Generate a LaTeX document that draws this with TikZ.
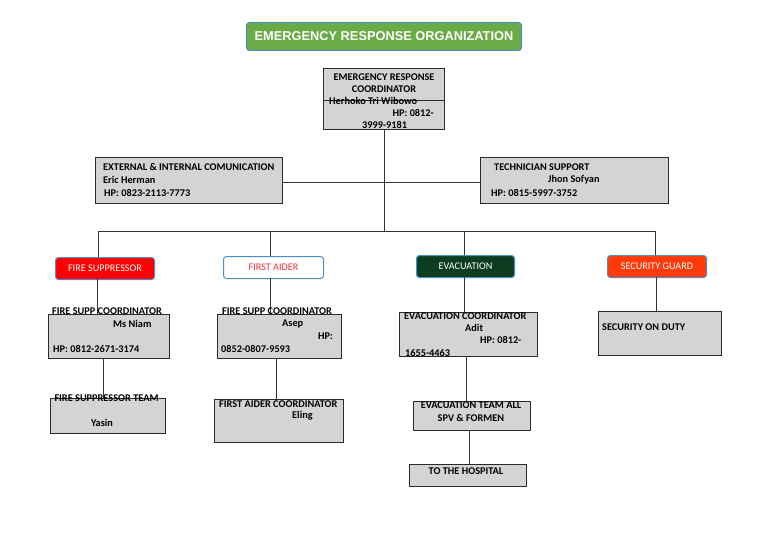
\documentclass[tikz,border=0pt]{standalone}
\usepackage{fontspec}
\setmainfont{Carlito}
\newfontfamily\titlefont{Liberation Sans}
\definecolor{boxgray}{HTML}{D4D4D4}
\definecolor{boxline}{HTML}{2A2A2A}
\definecolor{titlegreen}{HTML}{6AAB45}
\definecolor{edgeblue}{HTML}{4A8FC9}
\definecolor{firered}{HTML}{FF0000}
\definecolor{evacgreen}{HTML}{0D3D1E}
\definecolor{secred}{HTML}{FF3A0A}
\definecolor{aidred}{HTML}{F0323A}
\definecolor{conn}{HTML}{333333}
\tikzset{
  box/.style={draw=boxline, fill=boxgray, line width=1pt, anchor=north west, inner sep=0pt},
  cat/.style={draw=edgeblue, line width=1pt, rounded corners=3pt, anchor=north west, inner sep=0pt},
  cattxt/.style={inner sep=0pt, font=\fontsize{10.2}{12}\selectfont},
  txt/.style={inner sep=0pt, font=\bfseries\fontsize{10.3}{12}\selectfont, text=black},
  link/.style={draw=conn, line width=0.9pt}
}
\begin{document}
\begin{tikzpicture}[x=1pt,y=-1pt]
\useasboundingbox (0,0) rectangle (768,543);

% title
\node[draw=edgeblue, fill=titlegreen, line width=1pt, rounded corners=3pt, anchor=north west,
  minimum width=275pt, minimum height=28pt, inner sep=0pt] (title) at (246,22) {};
\node[inner sep=0pt, text=white, font=\titlefont\bfseries\fontsize{12.8}{15}\selectfont] at (title.center) {EMERGENCY RESPONSE ORGANIZATION};

% coordinator
\node[box, minimum width=121pt, minimum height=61pt] (erc) at (323,68) {};
\draw[boxline, line width=1pt] (erc.west |- 0,100) -- (erc.east |- 0,100);
\node[txt] at (384,77) {EMERGENCY RESPONSE};
\node[txt] at (384,89) {COORDINATOR};
\node[txt, anchor=west] at (329,101) {Herhoko Tri Wibowo};
\node[txt, anchor=east] at (434,113) {HP: 0812-};
\node[txt, anchor=west] at (362,125) {3999-9181};

% external / technician
\node[box, minimum width=187pt, minimum height=46pt] (ext) at (95,157) {};
\node[txt, anchor=west] at (103,167) {EXTERNAL \& INTERNAL COMUNICATION};
\node[txt, anchor=west] at (103,180) {Eric Herman};
\node[txt, anchor=west] at (104,193) {HP: 0823-2113-7773};

\node[box, minimum width=188pt, minimum height=46pt] (tech) at (480,157) {};
\node[txt, anchor=west] at (494,167) {TECHNICIAN SUPPORT};
\node[txt, anchor=west] at (548,180) {Jhon Sofyan};
\node[txt, anchor=west] at (491,193) {HP: 0815-5997-3752};

\coordinate (hub) at (384,231);
\coordinate (busL) at (98,231);
\coordinate (busR) at (655,231);
\coordinate (side) at (384,182);

\draw[link] (erc.south) -- (hub);
\draw[link] (ext.east |- side) -- (tech.west |- side);
\draw[link] (busL) -- (busR);

% categories
\node[cat, fill=firered, minimum width=99pt, minimum height=22pt] (fire) at (55,257) {};
\node[cattxt, text=white] at (fire.center) {FIRE SUPPRESSOR};
\node[cat, fill=white, minimum width=100pt, minimum height=22pt] (aid) at (223,256) {};
\node[cattxt, text=aidred] at (aid.center) {FIRST AIDER};
\node[cat, fill=evacgreen, minimum width=98pt, minimum height=22pt] (evac) at (416,255) {};
\node[cattxt, text=white] at (evac.center) {EVACUATION};
\node[cat, fill=secred, minimum width=99pt, minimum height=22pt] (sec) at (607,255) {};
\node[cattxt, text=white] at (sec.center) {SECURITY GUARD};

\draw[link] (busL) -- (busL |- fire.north);
\draw[link] (270,231) -- (270,256);
\draw[link] (464,231) -- (464,255);
\draw[link] (busR) -- (busR |- sec.north);

% fire suppressor column
\node[box, minimum width=121pt, minimum height=44pt] (fsc) at (48,314) {};
\draw[link] (97,278) -- (97,314);
\node[txt, anchor=west] at (52,311) {FIRE SUPP COORDINATOR};
\node[txt, anchor=west] at (113,324) {Ms Niam};
\node[txt, anchor=west] at (53,349) {HP: 0812-2671-3174};

\node[box, minimum width=115pt, minimum height=35pt] (fst) at (50,398) {};
\draw[link] (103,358) -- (103,398);
\node[txt] at (106.5,398) {FIRE SUPPRESSOR TEAM};
\node[txt] at (102,423) {Yasin};

% first aider column
\node[box, minimum width=124pt, minimum height=44pt] (fac) at (217,314) {};
\draw[link] (270,278) -- (270,314);
\node[txt, anchor=west] at (222,311) {FIRE SUPP COORDINATOR};
\node[txt, anchor=west] at (282,324) {Asep};
\node[txt, anchor=west] at (318,336) {HP:};
\node[txt, anchor=west] at (221,349) {0852-0807-9593};

\node[box, minimum width=129pt, minimum height=43pt] (fa2) at (214,399) {};
\draw[link] (276,358) -- (276,399);
\node[txt, anchor=west] at (219,404) {FIRST AIDER COORDINATOR};
\node[txt, anchor=west] at (292,416) {Eling};

% evacuation column
\node[box, minimum width=138pt, minimum height=44pt] (evc) at (399,312) {};
\draw[link] (464,277) -- (464,312);
\node[txt, anchor=west] at (404,316) {EVACUATION COORDINATOR};
\node[txt, anchor=west] at (465,328) {Adit};
\node[txt, anchor=west] at (480,340) {HP: 0812-};
\node[txt, anchor=west] at (405,353) {1655-4463};

\node[box, minimum width=117pt, minimum height=29pt] (evt) at (413,401) {};
\draw[link] (466,356) -- (466,401);
\node[txt] at (471,405) {EVACUATION TEAM ALL};
\node[txt] at (471,418) {SPV \& FORMEN};

\node[box, minimum width=117pt, minimum height=22pt] (hosp) at (409,464) {};
\draw[link] (469,430) -- (469,464);
\node[txt] at (466,471) {TO THE HOSPITAL};

% security column
\node[box, minimum width=123pt, minimum height=44pt] (sd) at (598,311) {};
\draw[link] (656,277) -- (656,311);
\node[txt, anchor=west] at (602,327) {SECURITY ON DUTY};
\end{tikzpicture}
\end{document}
